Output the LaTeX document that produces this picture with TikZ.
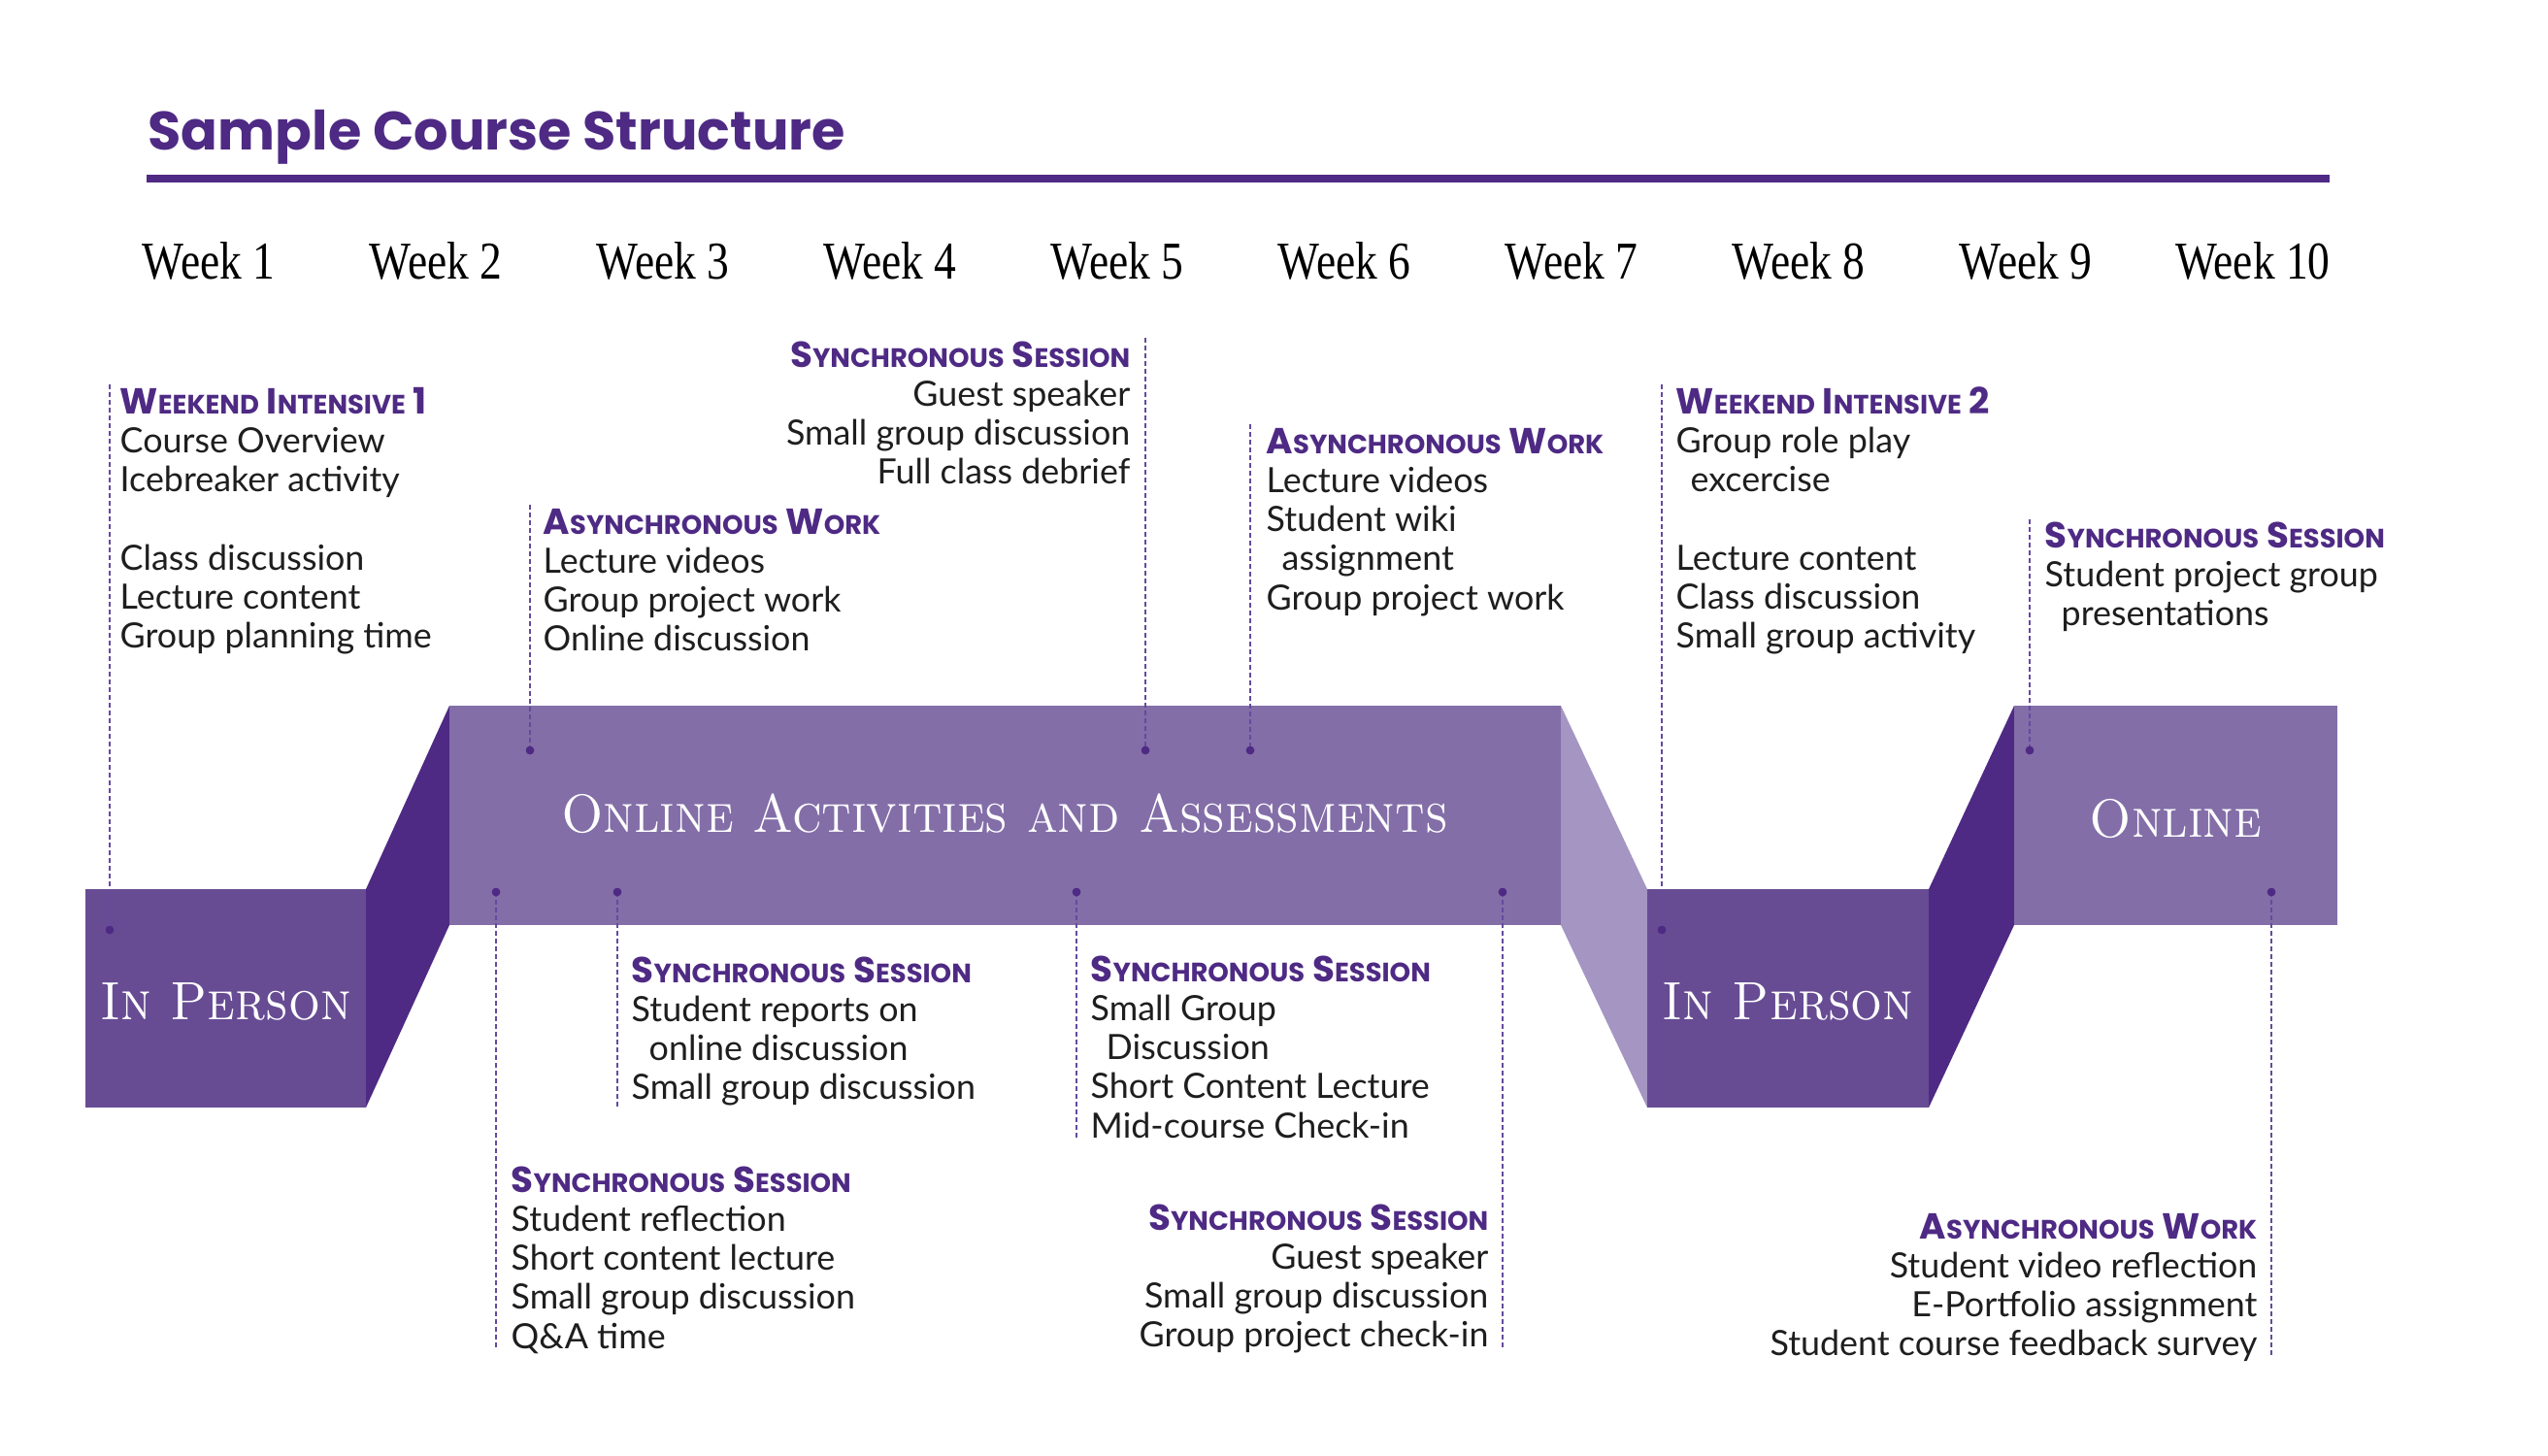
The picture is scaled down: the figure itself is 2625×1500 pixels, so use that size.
\documentclass[tikz,border=0pt]{standalone}
\usepackage{fontspec}
\newfontfamily\bodyfont{Lato}
\newfontfamily\headfont{Poppins}
\newfontfamily\weekfont{Liberation Serif}
\definecolor{nupurple}{HTML}{4E2A84}
\definecolor{inperson}{HTML}{674C94}
\definecolor{onlinec}{HTML}{836EA8}
\definecolor{slantlight}{HTML}{A495C2}
\definecolor{dashc}{HTML}{654A9C}
\definecolor{bodyc}{HTML}{1E1E1E}
\newcommand\hB[1]{{\fontsize{10.6}{12}\selectfont #1}}
\newcommand\hS[1]{{\fontsize{7.8}{9}\selectfont #1}}
\newcommand\SyncS{\hB{S}\hS{YNCHRONOUS} \hB{S}\hS{ESSION}}
\newcommand\AsyncW{\hB{A}\hS{SYNCHRONOUS} \hB{W}\hS{ORK}}
\newcommand\WkI[1]{\hB{W}\hS{EEKEND} \hB{I}\hS{NTENSIVE} \hB{#1}}
\tikzset{
  bodytxt/.style={font=\bodyfont\fontsize{10.2}{11.4}\selectfont, text=bodyc, inner sep=0pt},
  headtxt/.style={font=\headfont\bfseries\fontsize{10.5}{12}\selectfont, text=nupurple, inner sep=0pt},
  weektxt/.style={font=\weekfont\fontsize{15.6}{17}\selectfont, text=black, inner sep=0pt, anchor=base},
  boxlabel/.style={font=\fontsize{15.8}{18}\selectfont, text=white, inner sep=0pt, anchor=base},
  dashline/.style={draw=dashc, line width=0.2mm, dash pattern=on 0.45mm off 0.35mm},
  dotnode/.style={circle, fill=nupurple, inner sep=0pt, minimum size=0.85mm},
}
% left-aligned block: name, x, heading baseline y, heading, lines
\newcommand\blockL[5]{%
  \node[headtxt, anchor=base west] (#1h) at (#2,#3) {#4};
  \foreach \t [count=\i] in {#5} {\node[bodytxt, anchor=base west] (#1l\i) at (#2,#3+40.3*\i) {\t};}
}
\newcommand\blockR[5]{%
  \node[headtxt, anchor=base east] (#1h) at (#2,#3) {#4};
  \foreach \t [count=\i] in {#5} {\node[bodytxt, anchor=base east] (#1l\i) at (#2,#3+40.3*\i) {\t};}
}
\begin{document}
\begin{tikzpicture}[x=0.1mm, y=-0.1mm]
\useasboundingbox (0,0) rectangle (2625,1500);
\fill[white] (0,0) rectangle (2625,1500);

% title and rule
\node[anchor=base west, font=\headfont\bfseries\fontsize{15.85}{18}\selectfont, text=nupurple, inner sep=0pt] (title) at (152,154) {Sample Course Structure};
\fill[nupurple] (151,180) rectangle (2400,188);

% weeks
\foreach \i in {1,...,10} {\node[weektxt] (w\i) at ({215+234*(\i-1)},287) {\scalebox{0.83}[1]{Week \i}};}

% band shapes
\fill[inperson] (88,916) rectangle (377,1141);
\fill[nupurple] (377,916) -- (463,727) -- (463,953) -- (377,1141) -- cycle;
\fill[onlinec] (463,727) rectangle (1608,953);
\fill[slantlight] (1608,727) -- (1697,916) -- (1697,1141) -- (1608,953) -- cycle;
\fill[inperson] (1697,916) rectangle (1987,1141);
\fill[nupurple] (1987,916) -- (2075,727) -- (2075,953) -- (1987,1141) -- cycle;
\fill[onlinec] (2075,727) rectangle (2408,953);

% band labels
\node[boxlabel] (ip1) at (232.5,1050) {\scalebox{0.93}[1]{\textsc{In Person}}};
\node[boxlabel] (oaa) at (1035,857) {\scalebox{0.93}[1]{\textsc{Online Activities and Assessments}}};
\node[boxlabel] (ip2) at (1842,1050) {\scalebox{0.93}[1]{\textsc{In Person}}};
\node[boxlabel] (onl) at (2241.5,862) {\scalebox{0.93}[1]{\textsc{Online}}};

% connector end points and dots
\coordinate (t1) at (113,396);   \node[dotnode] (d1) at (113,958) {};
\coordinate (t2) at (546,520);   \node[dotnode] (d2) at (546,773) {};
\coordinate (t3) at (1180,348);  \node[dotnode] (d3) at (1180,773) {};
\coordinate (t4) at (1288,437);  \node[dotnode] (d4) at (1288,773) {};
\coordinate (t5) at (1712,396);  \node[dotnode] (d5) at (1712,958) {};
\coordinate (t6) at (2091,535);  \node[dotnode] (d6) at (2091,773) {};
\node[dotnode] (d7) at (511,919) {};   \coordinate (e7) at (511,1388);
\node[dotnode] (d8) at (636,919) {};   \coordinate (e8) at (636,1142);
\node[dotnode] (d9) at (1109,919) {};  \coordinate (e9) at (1109,1172);
\node[dotnode] (d10) at (1548,919) {}; \coordinate (e10) at (1548,1388);
\node[dotnode] (d11) at (2340,919) {}; \coordinate (e11) at (2340,1397);

\foreach \k in {1,...,6} {\draw[dashline] (t\k) -- (d\k.center);}
\foreach \k in {7,...,11} {\draw[dashline] (d\k.center) -- (e\k);}
\foreach \k in {1,...,11} {\node[dotnode] at (d\k) {};}

% text blocks
\blockL{a}{123}{426}{\WkI{1}}{Course Overview,Icebreaker activity,{},Class discussion,Lecture content,Group planning time}
\blockL{b}{559}{550}{\AsyncW}{Lecture videos,Group project work,Online discussion}
\blockR{c}{1165}{378}{\SyncS}{Guest speaker,Small group discussion,Full class debrief}
\blockL{d}{1304}{467}{\AsyncW}{Lecture videos,Student wiki,\hspace*{1.6mm}assignment,Group project work}
\blockL{e}{1726}{426}{\WkI{2}}{Group role play,\hspace*{1.5mm}excercise,{},Lecture content,Class discussion,Small group activity}
\blockL{f}{2106}{564}{\SyncS}{Student project group,\hspace*{1.7mm}presentations}
\blockL{g}{650}{1012}{\SyncS}{Student reports on,\hspace*{1.8mm}online discussion,Small group discussion}
\blockL{h}{1123}{1011}{\SyncS}{Small Group,\hspace*{1.6mm}Discussion,Short Content Lecture,Mid-course Check-in}
\blockL{i}{526}{1228}{\SyncS}{Student reflection,Short content lecture,Small group discussion,Q\&A time}
\blockR{j}{1534}{1267}{\SyncS}{Guest speaker,Small group discussion,Group project check-in}
\blockR{k}{2326}{1276}{\AsyncW}{Student video reflection,E-Portfolio assignment,Student course feedback survey}
\end{tikzpicture}
\end{document}
